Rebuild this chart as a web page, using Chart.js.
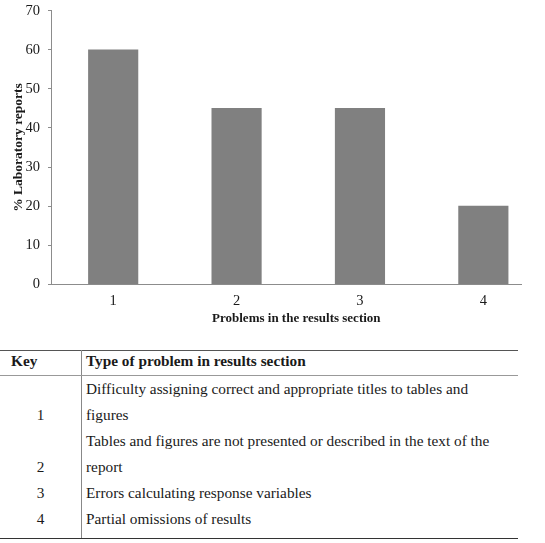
<!DOCTYPE html>
<html>
<head>
<meta charset="utf-8">
<script src="https://cdn.jsdelivr.net/npm/chart.js@4"></script>
<style>
  body { margin: 0; background: #fff; }
  #chartBox { position: absolute; left: 0; top: 0; width: 545px; height: 330px; }
  #keyTable {
    position: absolute; left: 0; top: 350px; width: 518px;
    border-collapse: collapse;
    font-family: "Liberation Serif", "Times New Roman", serif;
    font-size: 15.3px; color: #1a1a1a;
  }
  #keyTable th {
    font-weight: bold; text-align: left; padding: 0; height: 24px;
    line-height: 19px; vertical-align: top;
    border-top: 1.5px solid #555; border-bottom: 1px solid #999;
  }
  #keyTable td { padding: 0; line-height: 26.1px; white-space: nowrap; }
  #keyTable .k { width: 81px; text-align: center; vertical-align: bottom; border-right: 1px solid #888; }
  #keyTable th.k { text-align: left; vertical-align: top; padding-left: 11px; width: 70px; }
  #keyTable .d { padding-left: 4px; }
  #keyTable tr.last td { border-bottom: 1.5px solid #333; padding-bottom: 5px; }
</style>
</head>
<body>
<div id="chartBox"><canvas id="myChart"></canvas></div>
<table id="keyTable">
  <thead><tr><th class="k">Key</th><th class="d">Type of problem in results section</th></tr></thead>
  <tbody id="keyBody"></tbody>
</table>
<script>
  var categories = ["1", "2", "3", "4"];
  var percentReports = [60, 45, 45, 20];
  var yTicks = [0, 10, 20, 30, 40, 50, 60, 70];
  var keyLabels = ["1", "2", "3", "4"];
  var keyTexts = [
    ["Difficulty assigning correct and appropriate titles to tables and", "figures"],
    ["Tables and figures are not presented or described in the text of the", "report"],
    ["Errors calculating response variables"],
    ["Partial omissions of results"]
  ];

  var serif = "'Liberation Serif', 'Times New Roman', serif";
  var axisGray = "#8c8c8c";

  var points = percentReports.map(function (v, i) { return { x: i + 1, y: v }; });

  new Chart("myChart", {
    type: "bar",
    data: {
      datasets: [{
        data: points,
        backgroundColor: "#808080",
        barThickness: 49.5
      }]
    },
    options: {
      responsive: true,
      maintainAspectRatio: false,
      animation: false,
      layout: { padding: { top: 0, right: 23.4, left: 0, bottom: 0 } },
      plugins: { legend: { display: false }, tooltip: { enabled: false } },
      scales: {
        x: {
          type: "linear",
          offset: false,
          min: 0.5,
          max: 4.31,
          afterBuildTicks: function (scale) {
            scale.ticks = categories.map(function (c, i) { return { value: i + 1 }; });
          },
          afterFit: function (scale) { scale.height = 45.7; },
          grid: { drawOnChartArea: false, drawTicks: false, offset: false },
          border: { color: axisGray, width: 1 },
          ticks: {
            padding: 8,
            color: "#1a1a1a",
            font: { family: serif, size: 14.5 },
            callback: function (v) { return categories[v - 1]; }
          },
          title: {
            display: true,
            // leading spaces nudge the title right, as in the original
            text: "      Problems in the results section",
            color: "#1a1a1a",
            font: { family: serif, size: 13, weight: "bold" },
            padding: { top: 0, bottom: 4 }
          }
        },
        y: {
          min: 0,
          max: 70,
          afterBuildTicks: function (scale) {
            scale.ticks = yTicks.map(function (t) { return { value: t }; });
          },
          afterFit: function (scale) {
            scale.width = 51.5;
            scale.paddingTop = 10.7;
          },
          grid: { drawOnChartArea: false, tickLength: 3.5, color: axisGray },
          border: { color: axisGray, width: 1 },
          ticks: {
            padding: 8,
            color: "#1a1a1a",
            font: { family: serif, size: 14.5 }
          },
          title: {
            display: true,
            text: "% Laboratory reports",
            color: "#1a1a1a",
            font: { family: serif, size: 13.5, weight: "bold" },
            padding: { top: 10.5, bottom: 0 }
          }
        }
      }
    }
  });

  // key table below the chart
  var body = document.getElementById("keyBody");
  keyLabels.forEach(function (k, i) {
    var tr = document.createElement("tr");
    if (i == keyLabels.length - 1) tr.className = "last";
    var tdK = document.createElement("td");
    tdK.className = "k";
    tdK.textContent = k;
    var tdD = document.createElement("td");
    tdD.className = "d";
    tdD.innerHTML = keyTexts[i].join("<br>");
    tr.appendChild(tdK);
    tr.appendChild(tdD);
    body.appendChild(tr);
  });
</script>
</body>
</html>
